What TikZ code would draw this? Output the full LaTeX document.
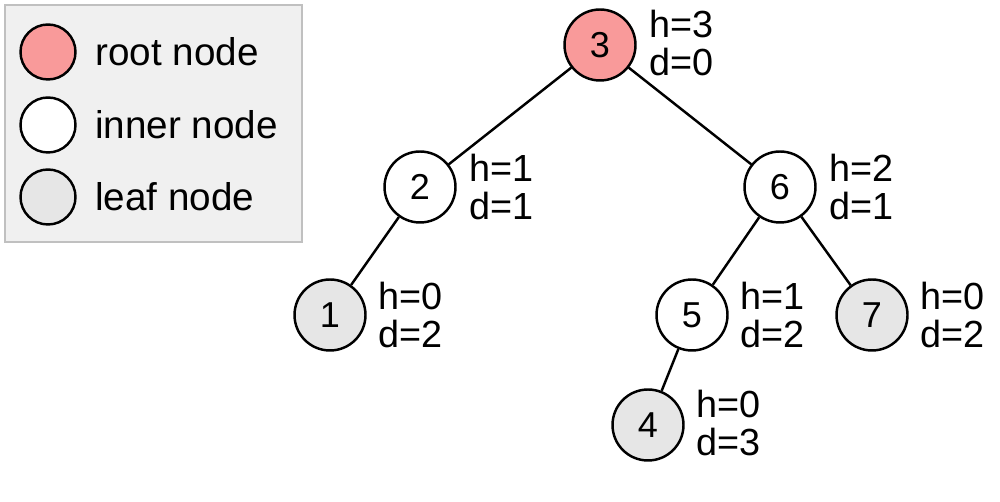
\documentclass[tikz,border=0pt]{standalone}
\usepackage{fontspec}
\setmainfont{Liberation Sans}
\definecolor{rootc}{HTML}{F99A9A}
\definecolor{leafc}{HTML}{E6E6E6}
\definecolor{legbg}{HTML}{F0F0F0}
\definecolor{legbd}{HTML}{C0C0C0}
\begin{document}
\begin{tikzpicture}[x=0.02cm,y=-0.02cm,
  tn/.style={circle,draw,line width=1.4pt,minimum size=1.42cm,inner sep=0pt,font=\fontsize{20.5}{22}\selectfont},
  ln/.style={circle,draw,line width=1.4pt,minimum size=1.1cm,inner sep=0pt},
  lab/.style={anchor=west,align=left,font=\fontsize{21.5}{21.5}\selectfont,inner sep=0pt},
  legt/.style={anchor=west,font=\fontsize{22}{22}\selectfont,inner sep=0pt},
  edge/.style={line width=1.4pt}]
\useasboundingbox (0,0) rectangle (1000,502);
\draw[fill=legbg,draw=legbd,line width=1.2pt] (5,5) rectangle (302,242);
\node[ln,fill=rootc] (l1) at (48,52) {};
\node[ln,fill=white] (l2) at (48,125) {};
\node[ln,fill=leafc] (l3) at (48,197) {};
\node[legt] (t1) at (95,52) {root node};
\node[legt] (t2) at (95,125) {inner node};
\node[legt] (t3) at (95,197) {leaf node};
\node[tn,fill=rootc] (n3) at (600,45) {3};
\node[tn,fill=white] (n2) at (420,187) {2};
\node[tn,fill=white] (n6) at (780,187) {6};
\node[tn,fill=leafc] (n1) at (330,315) {1};
\node[tn,fill=white] (n5) at (692,315) {5};
\node[tn,fill=leafc] (n7) at (872,315) {7};
\node[tn,fill=leafc] (n4) at (648,425) {4};
\draw[edge] (n3)--(n2); \draw[edge] (n3)--(n6);
\draw[edge] (n2)--(n1); \draw[edge] (n6)--(n5);
\draw[edge] (n6)--(n7); \draw[edge] (n5)--(n4);
\node[lab] (a3) at (649,43) {h=3\\d=0};
\node[lab] (a2) at (469,187) {h=1\\d=1};
\node[lab] (a6) at (829,187) {h=2\\d=1};
\node[lab] (a1) at (378,315) {h=0\\d=2};
\node[lab] (a5) at (740,315) {h=1\\d=2};
\node[lab] (a7) at (920,315) {h=0\\d=2};
\node[lab] (a4) at (696,423) {h=0\\d=3};
\end{tikzpicture}
\end{document}
